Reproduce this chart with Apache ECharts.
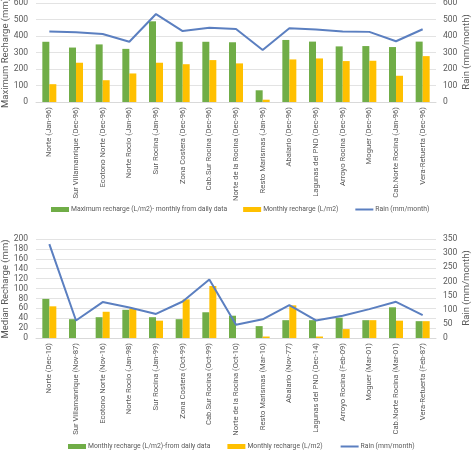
<!DOCTYPE html>
<html><head><meta charset="utf-8">
<script src="https://cdn.jsdelivr.net/npm/echarts@6/dist/echarts.min.js"></script>
<style>html,body{margin:0;padding:0;background:#fff}#c1,#c2{width:474px;height:225px}</style>
</head><body><div id="c1"></div><div id="c2"></div>
<script>
const topCategories = ["Norte (Jan-96)","Sur Villamanrique (Dec-96)","Ecotono Norte (Dec-96)","Norte Rocio (Jan-96)","Sur Rocina (Jan-96)","Zona Costera (Dec-96)","Cab.Sur Rocina (Dec-96)","Norte de la Rocina (Dec-96)","Resto Marismas (Jan-96)","Abalario (Dec-96)","Lagunas del PND (Dec-96)","Arroyo Rocina (Dec-96)","Moguer (Dec-96)","Cab.Norte Rocina (Jan-96)","Vera-Retuerta (Dec-96)"];
const topMaxRecharge = [365,330,349,322,489,365,365,362,71,376,366,337,339,333,366];
const topMonthlyRecharge = [108,238,132,173,238,229,254,234,14,258,264,248,250,159,278];
const topRain = [428,422,412,365,533,430,450,442,315,447,439,427,425,368,441];

const botCategories = ["Norte (Dec-10)","Sur Villamanrique (Nov-87)","Ecotono Norte (Nov-16)","Norte Rocio (Jan-98)","Sur Rocina (Jan-99)","Zona Costera (Oct-99)","Cab.Sur Rocina (Oct-99)","Norte de la Rocina (Oct-10)","Resto Marismas (Mar-10)","Abalario (Nov-77)","Lagunas del PND (Dec-14)","Arroyo Rocina (Feb-09)","Moguer (Mar-01)","Cab.Norte Rocina (Mar-01)","Vera-Retuerta (Feb-87)"];
const botDailyRecharge = [79,38,42,57,42,38,52,45,24,36,36,41,36,62,34];
const botMonthlyRecharge = [64,0,53,60,35,78,105,0,3,66,3,18,36,35,34];
const botRain = [332,62,127,108,85,129,207,47,66,116,62,79,102,128,81];

const FONT = 'Roboto';
const TXT = '#595959';
const GREEN = '#70ad47', ORANGE = '#ffc000', BLUE = '#5b7fc0';

function axisTitle(text, x, y) {
  return {type: 'text', x: x, y: y, rotation: Math.PI / 2,
    style: {text: text, fill: TXT, font: '9.5px Roboto', align: 'center', verticalAlign: 'middle'}};
}

function makeOption(cfg) {
  return {
    animation: false,
    textStyle: {fontFamily: FONT},
    grid: {left: 36, right: 38, top: cfg.top, height: 99, outerBoundsMode: 'none', containLabel: false},
    graphic: [axisTitle(cfg.lname, 6, cfg.top + 50), axisTitle('Rain (mm/month)', 467, cfg.top + 49)],
    legend: {
      left: cfg.legendLeft, top: cfg.legendTop, itemGap: cfg.itemGap, padding: 0,
      itemWidth: 18, itemHeight: 5,
      textStyle: {fontSize: 6.8, color: TXT, fontFamily: FONT, padding: [0,0,0,-3]},
      data: [{name: cfg.n1, icon: 'rect'}, {name: cfg.n2, icon: 'rect'},
             {name: cfg.n3, itemStyle: {opacity: 0}}]
    },
    xAxis: {
      type: 'category', data: cfg.categories,
      axisLine: {lineStyle: {color: '#d9d9d9'}}, axisTick: {show: false},
      axisLabel: {rotate: 90, interval: 0, fontSize: 7.7, color: TXT, margin: 5, fontFamily: FONT}
    },
    yAxis: [
      {type: 'value', min: 0, max: cfg.lmax, interval: cfg.lint,
       axisLabel: {fontSize: 8.5, color: TXT, margin: 8, fontFamily: FONT},
       splitLine: {lineStyle: {color: '#e3e3e3'}}},
      {type: 'value', min: 0, max: cfg.rmax, interval: cfg.rint,
       axisLabel: {fontSize: 8.5, color: TXT, margin: 7, fontFamily: FONT},
       splitLine: {show: false}}
    ],
    series: [
      {name: cfg.n1, type: 'bar', data: cfg.s1, barWidth: 7, barGap: '0%', itemStyle: {color: GREEN}},
      {name: cfg.n2, type: 'bar', data: cfg.s2, barWidth: 7, barGap: '0%', itemStyle: {color: ORANGE}},
      {name: cfg.n3, type: 'line', yAxisIndex: 1, data: cfg.s3, showSymbol: false, symbol: 'none',
       lineStyle: {color: BLUE, width: 2}, itemStyle: {color: BLUE}}
    ]
  };
}

echarts.init(document.getElementById('c1')).setOption(makeOption({
  top: 3, categories: topCategories, lmax: 600, lint: 100, rmax: 600, rint: 100,
  lname: 'Maximum Recharge (mm)',
  n1: 'Maximum recharge (L/m2)- monthly from daily data', n2: 'Monthly recharge (L/m2)', n3: 'Rain (mm/month)',
  s1: topMaxRecharge, s2: topMonthlyRecharge, s3: topRain,
  legendLeft: 51, legendTop: 206, itemGap: 16
}));
echarts.init(document.getElementById('c2')).setOption(makeOption({
  top: 14, categories: botCategories, lmax: 200, lint: 20, rmax: 350, rint: 50,
  lname: 'Median Recharge (mm)',
  n1: 'Monthly recharge (L/m2)-from daily data', n2: 'Monthly recharge (L/m2)', n3: 'Rain (mm/month)',
  s1: botDailyRecharge, s2: botMonthlyRecharge, s3: botRain,
  legendLeft: 68, legendTop: 218, itemGap: 17
}));
</script></body></html>
